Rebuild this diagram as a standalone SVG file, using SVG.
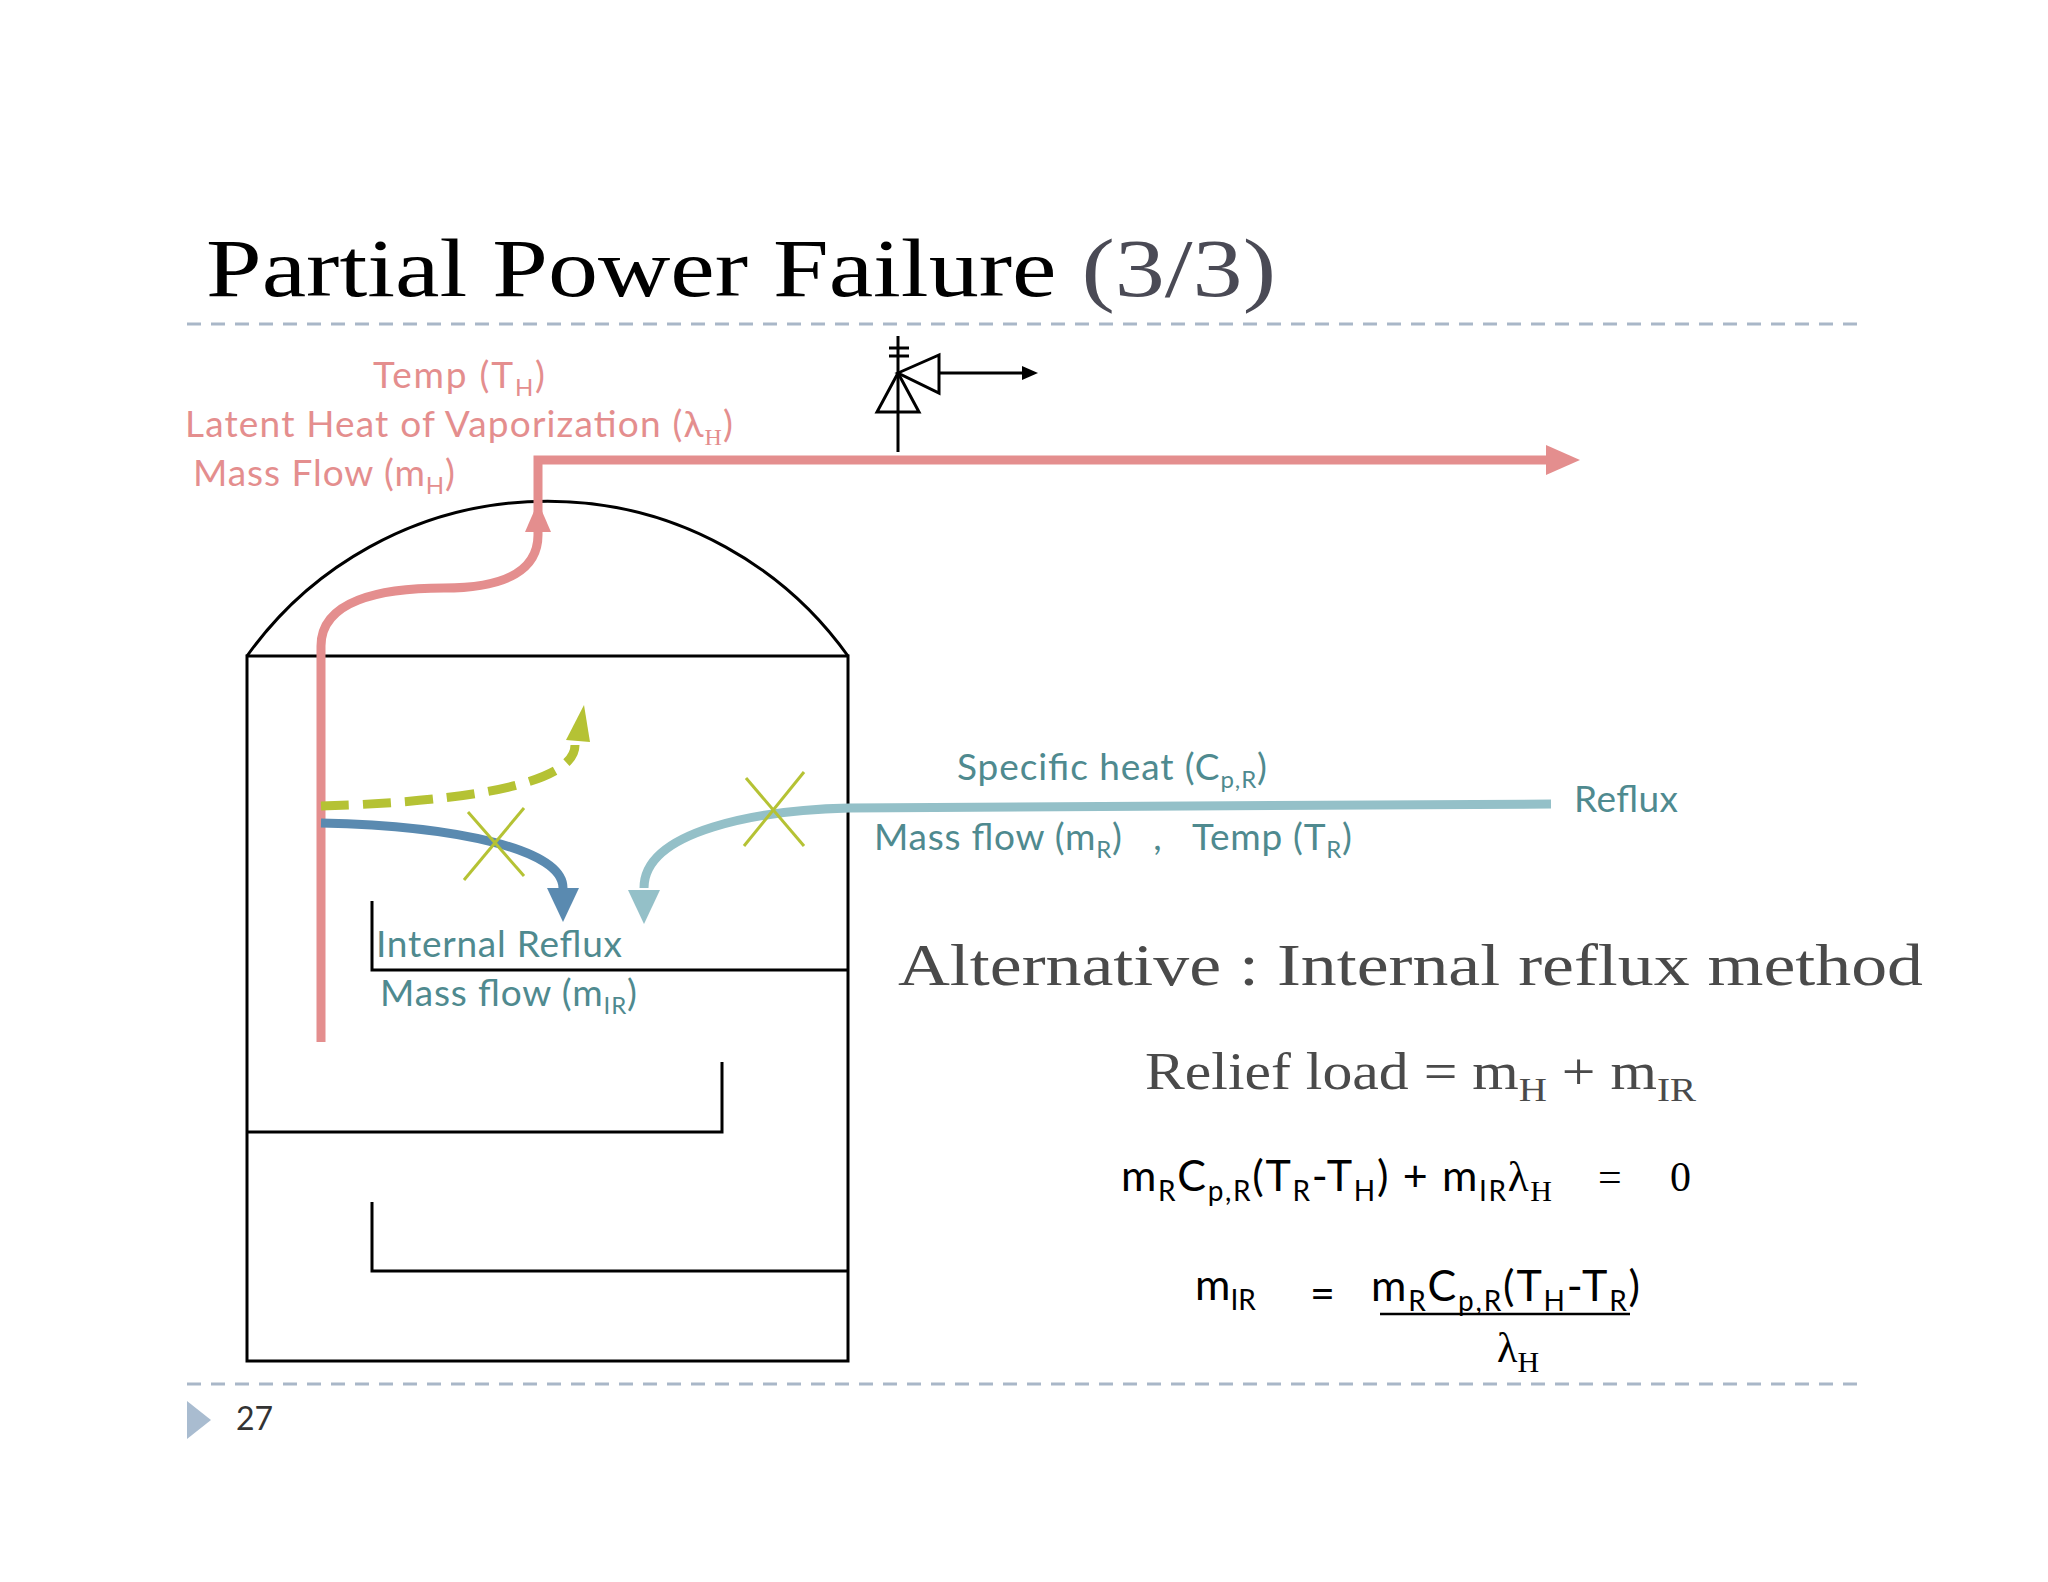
<svg xmlns="http://www.w3.org/2000/svg" width="2048" height="1582" viewBox="0 0 2048 1582">
<style>
.dash{stroke:#a9b7c8;stroke-width:3;stroke-dasharray:14 10;fill:none}
.blk{stroke:#000;stroke-width:3;fill:none}
.red{fill:#e48e8e;font-family:Lato,"Open Sans",sans-serif;font-size:37px}
.teal{fill:#4f8a8f;font-family:Lato,"Open Sans",sans-serif;font-size:37px}
.eq{fill:#000;font-family:Lato,"Open Sans",sans-serif;font-size:43px}
.ser{font-family:"Liberation Serif","DejaVu Serif",serif}
</style>
<rect width="2048" height="1582" fill="#fff"/>
<text x="206" y="296" class="ser" font-size="82" fill="#000" textLength="1070" lengthAdjust="spacingAndGlyphs">Partial Power Failure <tspan fill="#4a4a55">(3/3)</tspan></text>
<line x1="187" y1="324" x2="1861" y2="324" class="dash"/>
<line x1="187" y1="1384" x2="1861" y2="1384" class="dash"/>
<polygon points="187,1401 211,1420 187,1439" fill="#a9bcd0"/>
<text x="236" y="1430" font-family="Lato,sans-serif" font-size="32" fill="#333">27</text>
<g id="vessel">
<rect x="247" y="656" width="601" height="705" class="blk"/>
<path d="M247 656 A369 369 0 0 1 848 656" class="blk"/>
<path d="M372 901 V970 H848" class="blk"/>
<path d="M247 1132 H722 V1062" class="blk"/>
<path d="M372 1202 V1271 H848" class="blk"/>
</g>
<g id="valve">
<line x1="898" y1="452" x2="898" y2="336" class="blk"/>
<line x1="889" y1="348" x2="909" y2="348" class="blk"/>
<line x1="889" y1="356" x2="909" y2="356" class="blk"/>
<polygon points="898,373 877,412 919,412" class="blk"/>
<polygon points="898,373 939,355 939,393" class="blk"/>
<line x1="939" y1="373" x2="1024" y2="373" class="blk"/>
<polygon points="1038,373 1022,366 1022,380" fill="#000"/>
</g>
<g id="connectors" fill="none" stroke-width="9">
<path d="M321 1042 L321 646 C321 601 379 588 444 588 C509 588 538 568 538 535 L538 460 L1550 460" stroke="#e48e8e"/>
<polygon points="538,502 525,532 551,532" fill="#e48e8e" stroke="none"/>
<polygon points="1580,460 1546,445 1546,475" fill="#e48e8e" stroke="none"/>
<path d="M321 806 C430 803 575 790 575 745" stroke="#b5c234" stroke-dasharray="28 14"/>
<polygon points="584,705 566,740 590,742" fill="#b5c234" stroke="none"/>
<path d="M321 823 C460 826 563 850 563 888" stroke="#5a8ab0"/>
<polygon points="563,922 547,888 579,888" fill="#5a8ab0" stroke="none"/>
<path d="M1551 804 L849 808 C760 810 644 830 644 888" stroke="#94c0c8"/>
<polygon points="644,924 628,890 660,890" fill="#94c0c8" stroke="none"/>
<g stroke="#b5c234" stroke-width="3">
<line x1="464" y1="880" x2="524" y2="808"/><line x1="468" y1="812" x2="524" y2="876"/>
<line x1="744" y1="846" x2="804" y2="772"/><line x1="746" y1="778" x2="804" y2="846"/>
</g>
</g>
<g id="labels">
<text x="373" y="388" class="red" textLength="172">Temp (T<tspan font-size="24" dy="8">H</tspan><tspan dy="-8">)</tspan></text>
<text x="185" y="437" class="red" textLength="548">Latent Heat of  Vaporization (λ<tspan font-size="24" dy="8" class="ser">H</tspan><tspan dy="-8">)</tspan></text>
<text x="193" y="486" class="red" textLength="262">Mass Flow (m<tspan font-size="24" dy="8">H</tspan><tspan dy="-8">)</tspan></text>
<text x="957" y="780" class="teal" textLength="310">Specific heat (C<tspan font-size="24" dy="8">p,R</tspan><tspan dy="-8">)</tspan></text>
<text x="1574" y="812" class="teal" textLength="104">Reflux</text>
<text x="874" y="850" class="teal" xml:space="preserve" textLength="478">Mass flow (m<tspan font-size="24" dy="8">R</tspan><tspan dy="-8">)   ,   Temp (T</tspan><tspan font-size="24" dy="8">R</tspan><tspan dy="-8">)</tspan></text>
<text x="376" y="957" class="teal" textLength="246">Internal Reflux</text>
<text x="380" y="1006" class="teal" textLength="257">Mass flow (m<tspan font-size="24" dy="8">IR</tspan><tspan dy="-8">)</tspan></text>
</g>
<g id="equations">
<text x="898" y="985" class="ser" font-size="60" fill="#4a4a4a" textLength="1025" lengthAdjust="spacingAndGlyphs">Alternative : Internal reflux method</text>
<text x="1145" y="1089" class="ser" font-size="52" fill="#4a4a4a" textLength="551" lengthAdjust="spacingAndGlyphs">Relief load = m<tspan font-size="34" dy="12">H</tspan><tspan dy="-12"> + m</tspan><tspan font-size="34" dy="12">IR</tspan></text>
<text x="1121" y="1191" class="eq" textLength="431">m<tspan font-size="28" dy="10">R</tspan><tspan dy="-10">C</tspan><tspan font-size="28" dy="10">p,R</tspan><tspan dy="-10">(T</tspan><tspan font-size="28" dy="10">R</tspan><tspan dy="-10">-T</tspan><tspan font-size="28" dy="10">H</tspan><tspan dy="-10">) + m</tspan><tspan font-size="28" dy="10">IR</tspan><tspan dy="-10" class="ser">λ</tspan><tspan font-size="30" dy="10" class="ser">H</tspan></text>
<text x="1598" y="1191" class="ser" font-size="42">=</text>
<text x="1670" y="1191" class="ser" font-size="42">0</text>
<text x="1195" y="1300" class="eq">m<tspan font-size="28" dy="10">IR</tspan></text>
<text x="1310" y="1308" class="eq" font-size="26">=</text>
<text x="1371" y="1301" class="eq" textLength="269">m<tspan font-size="28" dy="10">R</tspan><tspan dy="-10">C</tspan><tspan font-size="28" dy="10">p,R</tspan><tspan dy="-10">(T</tspan><tspan font-size="28" dy="10">H</tspan><tspan dy="-10">-T</tspan><tspan font-size="28" dy="10">R</tspan><tspan dy="-10">)</tspan></text>
<line x1="1380" y1="1314" x2="1630" y2="1314" stroke="#000" stroke-width="2.5"/>
<text x="1497" y="1362" class="ser" font-size="42">λ<tspan font-size="30" dy="10">H</tspan></text>
</g>
</svg>
